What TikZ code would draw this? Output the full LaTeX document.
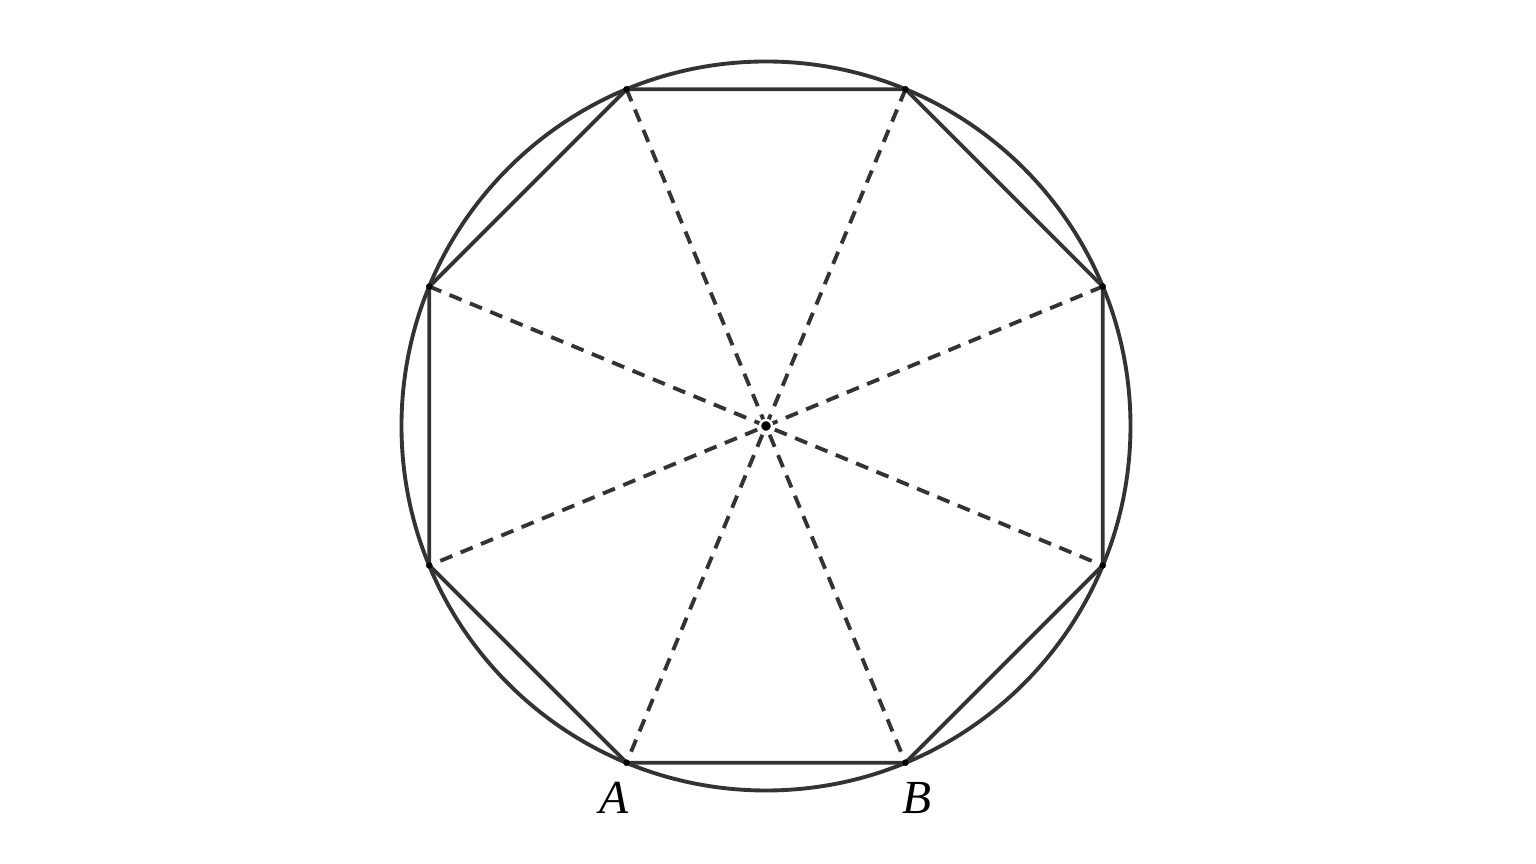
\documentclass[tikz,border=0pt]{standalone}
\usepackage{fontspec}
\setmainfont{Liberation Serif}
\usepackage{tikz}
\tikzset{
  solid line/.style={
    draw=black!80,
    line width=1.1pt,
  },
  dashed line/.style={
    draw=black!80,
    line width=1.1pt,
    dash pattern=on 0.13cm off 0.09cm,
  },
  vertex dot/.style={
    circle,
    fill=black,
    inner sep=0pt,
    minimum size=0.065cm,
  },
  centre dot/.style={
    circle,
    fill=black,
    draw=white,
    line width=0.7pt,
    inner sep=0pt,
    minimum size=0.12cm,
  },
  label/.style={
    font=\fontsize{13.5}{16}\selectfont\itshape,
  }
}

\begin{document}
\begin{tikzpicture}
        \useasboundingbox (-7.66,-4.38) rectangle (7.70,4.26);

        \coordinate (O) at (0,0);
        \coordinate (v1) at (22.5:3.645);
        \coordinate (v2) at (67.5:3.645);
        \coordinate (v3) at (112.5:3.645);
        \coordinate (v4) at (157.5:3.645);
        \coordinate (v5) at (202.5:3.645);
        \coordinate (v6) at (247.5:3.645);
        \coordinate (v7) at (292.5:3.645);
        \coordinate (v8) at (337.5:3.645);

        \draw [dashed line] (v1) -- (v5);
        \draw [dashed line] (v2) -- (v6);
        \draw [dashed line] (v3) -- (v7);
        \draw [dashed line] (v4) -- (v8);

        \draw [solid line] (v1) -- (v2) -- (v3) -- (v4) -- (v5) -- (v6) -- (v7) -- (v8) -- cycle;
        \draw [solid line] (O) circle (3.645);

        \node [vertex dot] at (v1) {};
        \node [vertex dot] at (v2) {};
        \node [vertex dot] at (v3) {};
        \node [vertex dot] at (v4) {};
        \node [vertex dot] at (v5) {};
        \node [vertex dot] at (v6) {};
        \node [vertex dot] at (v7) {};
        \node [vertex dot] at (v8) {};
        \node [centre dot] (o) at (O) {};

        \node [label] (a) at ([shift={(-0.13,-0.35)}]v6) {A};
        \node [label] (b) at ([shift={(0.12,-0.35)}]v7) {B};
\end{tikzpicture}
\end{document}
